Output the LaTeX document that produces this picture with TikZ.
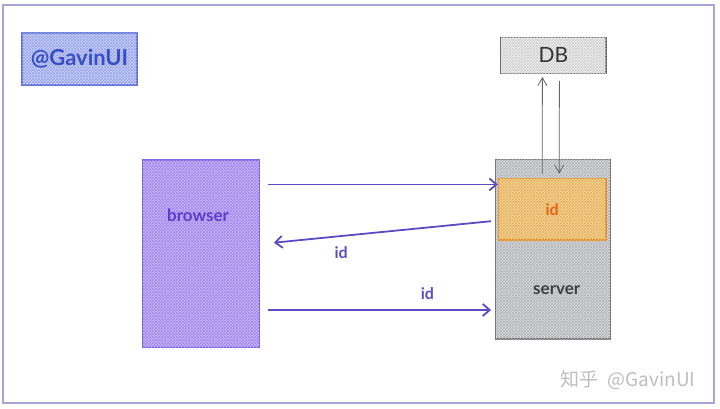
\documentclass[tikz,border=0pt]{standalone}
\usepackage{fontspec}
\setmainfont{Lato}
\newfontfamily\cjkfont{Noto Sans CJK SC}
\usetikzlibrary{calc,positioning,patterns,arrows.meta}
\definecolor{frameline}{RGB}{168,164,218}
\definecolor{tagline}{RGB}{100,114,214}
\definecolor{tagfill}{RGB}{208,214,250}
\definecolor{taghatch}{RGB}{146,160,236}
\definecolor{tagtext}{RGB}{58,78,196}
\definecolor{brline}{RGB}{128,100,224}
\definecolor{brfill}{RGB}{204,190,250}
\definecolor{brhatch}{RGB}{156,130,238}
\definecolor{brtext}{RGB}{92,62,206}
\definecolor{flowcol}{RGB}{92,76,196}
\definecolor{grayline}{RGB}{100,100,100}
\definecolor{dbfill}{RGB}{242,242,242}
\definecolor{dbhatch}{RGB}{206,206,206}
\definecolor{srvfill}{RGB}{218,220,223}
\definecolor{srvhatch}{RGB}{176,178,182}
\definecolor{idline}{RGB}{236,140,30}
\definecolor{idfill}{RGB}{246,216,156}
\definecolor{idhatch}{RGB}{228,176,92}
\definecolor{idtext}{RGB}{230,100,20}
\definecolor{wmtext}{RGB}{190,190,190}

\begin{document}
\begin{tikzpicture}[x=1pt,y=-1pt,
    box/.style={draw,line width=1.2pt,inner sep=0pt},
    hatched/.style={postaction={pattern=crosshatch,pattern color=#1}},
    lbl/.style={inner sep=0pt,font=\bfseries\fontsize{17}{19}\selectfont},
    flow/.style={draw=flowcol,line width=1.8pt,-{Straight Barb[length=7pt,width=12pt]}},
    dbflow/.style={draw=grayline,line width=0.8pt,-{Straight Barb[length=8pt,width=9pt]}}]
    \useasboundingbox (0,0) rectangle (720,409);
    \draw[frameline,line width=1.2pt] (3,5) rectangle (714,403);
    \node[box,draw=tagline,fill=tagfill,hatched=taghatch,minimum width=115pt,minimum height=52pt,text=tagtext,font=\bfseries\fontsize{22}{24}\selectfont] (tag) at (79.5,59) {@GavinUI};
    \node[box,draw=brline,fill=brfill,hatched=brhatch,minimum width=116.6pt,minimum height=187.3pt] (browser) at (201,253.7) {};
    \node[lbl,text=brtext] (browserlbl) at (198,215) {browser};
    \node[box,draw=grayline,fill=srvfill,hatched=srvhatch,minimum width=115pt,minimum height=179.7pt] (server) at (553.2,249.2) {};
    \node[box,draw=idline,fill=idfill,hatched=idhatch,minimum width=107.7pt,minimum height=61.7pt,text=idtext,font=\bfseries\fontsize{16}{18}\selectfont] (idbox) at (552.2,209.2) {id};
    \node[lbl,text=black!75] (serverlbl) at (556.7,290) {server};
    \node[box,draw=grayline,fill=dbfill,hatched=dbhatch,minimum width=105.3pt,minimum height=36pt,text=black!80,font=\fontsize{21}{23}\selectfont] (db) at (553.4,55.3) {DB};
    \draw[dbflow] ($(idbox.north)+(-10,-4)$) -- ($(db.south)+(-11,3)$);
    \draw[dbflow] ($(db.south)+(6,7)$) -- ($(idbox.north)+(7,-4)$);
    \draw[flow] ($(browser.north east)+(8,25)$) coordinate (req) -- (req -| idbox.west);
    \draw[flow] ($(server.west)+(-4,-28)$) -- node[pos=0.69,below=10pt,lbl,text=flowcol,font=\bfseries\fontsize{16}{18}\selectfont] (resid) {id} ($(browser.east)+(14,-11)$);
    \draw[flow] ($(browser.east)+(8,56.3)$) coordinate (next) -- node[pos=0.715,above=9pt,lbl,text=flowcol,font=\bfseries\fontsize{16}{18}\selectfont] (reqid) {id} ($(next -| server.west)+(-4,0)$);
    \node[text=wmtext,inner sep=0pt,font=\cjkfont\fontsize{19}{21}\selectfont] (wmark) at (628,380) {知乎\hspace{9pt}@GavinUI};
\end{tikzpicture}
\end{document}
